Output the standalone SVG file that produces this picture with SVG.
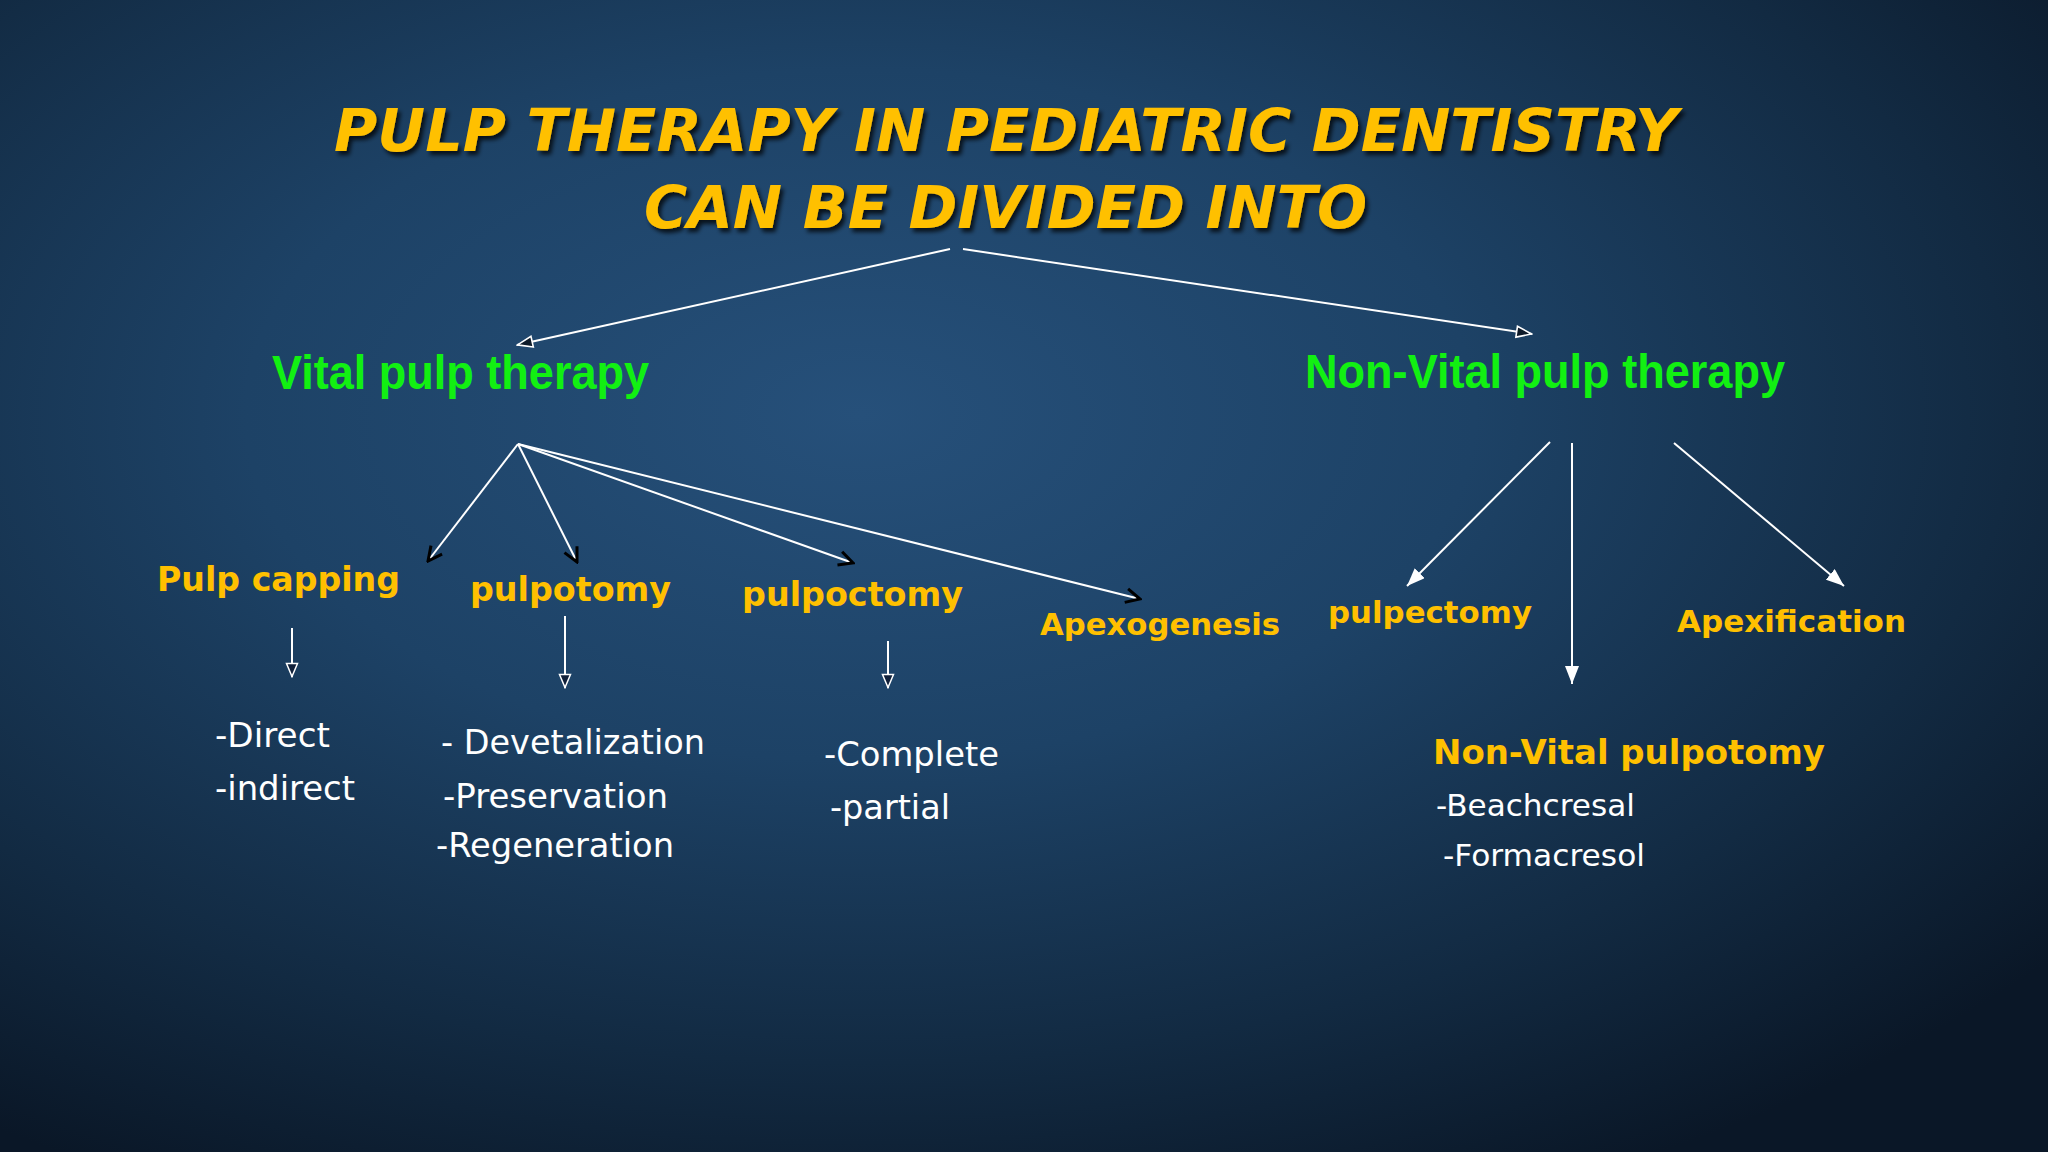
<svg xmlns="http://www.w3.org/2000/svg" width="2048" height="1152" viewBox="0 0 2048 1152">
  <defs>
    <radialGradient id="bg" cx="0.42" cy="0.36" r="0.75" gradientUnits="objectBoundingBox">
      <stop offset="0" stop-color="#26507a"/>
      <stop offset="0.4" stop-color="#1d4266"/>
      <stop offset="0.75" stop-color="#122a42"/>
      <stop offset="1" stop-color="#0a1727"/>
    </radialGradient>
    <filter id="shadow" x="-5%" y="-20%" width="110%" height="150%">
      <feDropShadow dx="3" dy="4" stdDeviation="2" flood-color="#000" flood-opacity="0.75"/>
    </filter>
    <marker id="openTri" viewBox="0 0 18 14" refX="17" refY="7" markerWidth="18" markerHeight="14" markerUnits="userSpaceOnUse" orient="auto">
      <path d="M1.5,1.5 L16.5,7 L1.5,12.5 z" fill="#0d1a29" stroke="#ffffff" stroke-width="1.6"/>
    </marker>
    <marker id="smallTri" viewBox="0 0 16 14" refX="15" refY="7" markerWidth="16" markerHeight="14" markerUnits="userSpaceOnUse" orient="auto">
      <path d="M1.5,1.5 L14.5,7 L1.5,12.5 z" fill="#10203a" stroke="#ffffff" stroke-width="1.5"/>
    </marker>
    <marker id="blackV" viewBox="0 0 18 18" refX="16" refY="9" markerWidth="18" markerHeight="18" markerUnits="userSpaceOnUse" orient="auto">
      <path d="M2,2 L16,9 L2,16" fill="none" stroke="#000000" stroke-width="3" stroke-linejoin="miter"/>
    </marker>
    <marker id="whiteTri" viewBox="0 0 18 14" refX="18" refY="7" markerWidth="18" markerHeight="14" markerUnits="userSpaceOnUse" orient="auto">
      <path d="M0,0 L18,7 L0,14 z" fill="#ffffff"/>
    </marker>
  </defs>
  <style>
    .title { font-family: "DejaVu Sans", Verdana, sans-serif; font-weight: bold; font-style: italic; font-size: 58px; fill: #FFC000; }
    .green { font-family: "Liberation Sans", Arial, sans-serif; font-weight: bold; font-size: 48px; fill: #12F012; }
    .yel { font-family: "DejaVu Sans", Verdana, sans-serif; font-weight: bold; fill: #FFC000; }
    .wht { font-family: "DejaVu Sans", Verdana, sans-serif; fill: #ffffff; }
    .conn line { stroke: #ffffff; stroke-width: 2; }
  </style>

  <rect x="0" y="0" width="2048" height="1152" fill="url(#bg)"/>

  <g id="title" filter="url(#shadow)">
    <text class="title" x="334" y="151" textLength="1344" lengthAdjust="spacingAndGlyphs">PULP THERAPY IN PEDIATRIC DENTISTRY</text>
    <text class="title" x="644" y="228" textLength="723" lengthAdjust="spacingAndGlyphs">CAN BE DIVIDED INTO</text>
  </g>

  <g id="connectors" class="conn">
    <line x1="950" y1="249" x2="517" y2="345" marker-end="url(#openTri)"/>
    <line x1="963" y1="249" x2="1532" y2="334" marker-end="url(#openTri)"/>
    <line x1="518" y1="444" x2="428" y2="561" marker-end="url(#blackV)"/>
    <line x1="518" y1="444" x2="577" y2="562" marker-end="url(#blackV)"/>
    <line x1="518" y1="444" x2="853" y2="563" marker-end="url(#blackV)"/>
    <line x1="518" y1="444" x2="1140" y2="599" marker-end="url(#blackV)"/>
    <line x1="1550" y1="442" x2="1407" y2="586" marker-end="url(#whiteTri)"/>
    <line x1="1572" y1="443" x2="1572" y2="684" marker-end="url(#whiteTri)"/>
    <line x1="1674" y1="443" x2="1844" y2="586" marker-end="url(#whiteTri)"/>
    <line x1="292" y1="628" x2="292" y2="677" marker-end="url(#smallTri)"/>
    <line x1="565" y1="616" x2="565" y2="688" marker-end="url(#smallTri)"/>
    <line x1="888" y1="641" x2="888" y2="688" marker-end="url(#smallTri)"/>
  </g>

  <g id="vital">
    <text class="green" x="272" y="389" textLength="377" lengthAdjust="spacingAndGlyphs">Vital pulp therapy</text>
  </g>
  <g id="nonvital">
    <text class="green" x="1305" y="388" textLength="480" lengthAdjust="spacingAndGlyphs">Non-Vital pulp therapy</text>
  </g>

  <g id="pulp-capping">
    <text class="yel" x="157" y="591" font-size="33" textLength="243" lengthAdjust="spacingAndGlyphs">Pulp capping</text>
  </g>
  <g id="pulpotomy">
    <text class="yel" x="470" y="601" font-size="33" textLength="201" lengthAdjust="spacingAndGlyphs">pulpotomy</text>
  </g>
  <g id="pulpoctomy">
    <text class="yel" x="742" y="606" font-size="33" textLength="221" lengthAdjust="spacingAndGlyphs">pulpoctomy</text>
  </g>
  <g id="apexogenesis">
    <text class="yel" x="1040" y="635" font-size="30" textLength="240" lengthAdjust="spacingAndGlyphs">Apexogenesis</text>
  </g>
  <g id="pulpectomy">
    <text class="yel" x="1328" y="623" font-size="31" textLength="204" lengthAdjust="spacingAndGlyphs">pulpectomy</text>
  </g>
  <g id="apexification">
    <text class="yel" x="1677" y="632" font-size="30" textLength="229" lengthAdjust="spacingAndGlyphs">Apexification</text>
  </g>
  <g id="nonvital-pulpotomy">
    <text class="yel" x="1433" y="764" font-size="33" textLength="392" lengthAdjust="spacingAndGlyphs">Non-Vital pulpotomy</text>
    <text class="wht" x="1436" y="816" font-size="31" textLength="199" lengthAdjust="spacingAndGlyphs">-Beachcresal</text>
    <text class="wht" x="1443" y="866" font-size="31" textLength="202" lengthAdjust="spacingAndGlyphs">-Formacresol</text>
  </g>

  <g id="capping-types">
    <text class="wht" x="215" y="747" font-size="34" textLength="115" lengthAdjust="spacingAndGlyphs">-Direct</text>
    <text class="wht" x="215" y="800" font-size="34" textLength="140" lengthAdjust="spacingAndGlyphs">-indirect</text>
  </g>
  <g id="pulpotomy-types">
    <text class="wht" x="441" y="754" font-size="34" textLength="264" lengthAdjust="spacingAndGlyphs">- Devetalization</text>
    <text class="wht" x="443" y="808" font-size="34" textLength="225" lengthAdjust="spacingAndGlyphs">-Preservation</text>
    <text class="wht" x="436" y="857" font-size="34" textLength="238" lengthAdjust="spacingAndGlyphs">-Regeneration</text>
  </g>
  <g id="pulpoctomy-types">
    <text class="wht" x="824" y="766" font-size="34" textLength="175" lengthAdjust="spacingAndGlyphs">-Complete</text>
    <text class="wht" x="830" y="819" font-size="34" textLength="120" lengthAdjust="spacingAndGlyphs">-partial</text>
  </g>
</svg>
